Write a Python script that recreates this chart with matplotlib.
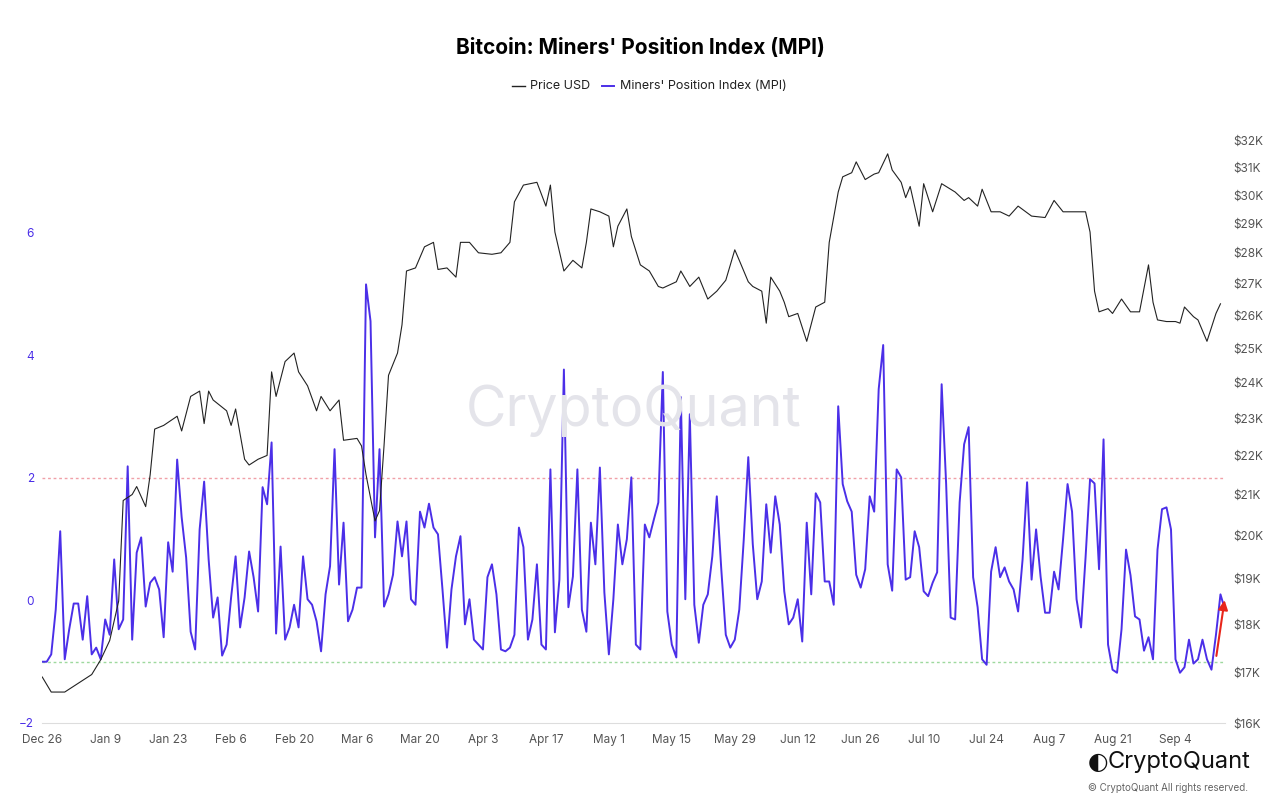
import numpy as np
import pandas as pd
import matplotlib
matplotlib.use('Agg')
import matplotlib.pyplot as plt
from matplotlib.ticker import FixedLocator

# --- data ---
start = pd.Timestamp('2022-12-26')

mpi = [-1.0, -1.0, -0.88, -0.15, 1.13, -0.96, -0.47, -0.05, -0.05, -0.64, 0.07, -0.88, -0.77, -0.96, -0.31,
       -0.56, 0.67, -0.47, -0.31, 2.19, -0.64, 0.78, 1.03, -0.1, 0.29, 0.38, 0.18, -0.6, 0.95, 0.47, 2.3, 1.36,
       0.7, -0.51, -0.8, 1.16, 1.94, 0.67, -0.28, 0.05, -0.9, -0.72, 0.05, 0.72, -0.44, 0.05, 0.8, 0.38, -0.18,
       1.85, 1.57, 2.58, -0.54, 0.88, -0.64, -0.44, -0.07, -0.44, 0.72, 0.02, -0.07, -0.34, -0.83, 0.1, 0.56,
       2.47, 0.26, 1.27, -0.34, -0.15, 0.21, 0.21, 5.16, 4.56, 1.03, 2.47, -0.1, 0.1, 0.42, 1.29, 0.72, 1.29,
       0.02, -0.07, 1.45, 1.19, 1.58, 1.19, 1.08, 0.18, -0.77, 0.18, 0.72, 1.05, -0.39, 0.02, -0.64, -0.72,
       -0.8, 0.38, 0.59, 0.1, -0.8, -0.83, -0.77, -0.56, 1.19, 0.87, -0.64, -0.31, 0.59, -0.72, -0.8, 2.14,
       -0.52, 0.34, 3.77, -0.11, 0.39, 2.14, -0.15, -0.51, 1.27, 0.59, 2.17, 0.13, -0.88, 0.02, 1.24, 0.59,
       1.0, 2.01, -0.72, -0.8, 1.24, 1.03, 1.32, 1.6, 3.73, -0.18, -0.72, -0.93, 3.32, 0.02, 3.04, -0.07,
       -0.69, -0.07, 0.1, 0.72, 1.7, 0.51, -0.56, -0.77, -0.64, -0.15, 1.0, 2.34, 0.92, 0.02, 0.31, 1.57,
       0.78, 1.7, 1.24, 0.15, -0.39, -0.28, 0.02, -0.67, 1.27, 0.1, 1.75, 1.6, 0.31, 0.31, -0.07, 3.17, 1.9,
       1.62, 1.45, 0.42, 0.21, 0.51, 1.7, 1.45, 3.45, 4.17, 0.59, 0.16, 2.14, 2.01, 0.34, 0.38, 1.13, 0.87,
       0.15, 0.07, 0.29, 0.46, 3.53, 1.9, -0.28, -0.31, 1.6, 2.55, 2.83, 0.38, -0.11, -0.96, -1.05, 0.47,
       0.87, 0.38, 0.54, 0.31, 0.18, -0.18, 0.67, 1.93, 0.34, 1.16, 0.39, -0.2, -0.2, 0.47, 0.18, 1.0, 1.9,
       1.45, 0.02, -0.44, 0.7, 1.98, 1.91, 0.51, 2.63, -0.72, -1.13, -1.18, -0.47, 0.83, 0.41, -0.26, -0.31,
       -0.82, -0.6, -0.96, 0.83, 1.49, 1.52, 1.16, -0.96, -1.18, -1.09, -0.64, -1.03, -0.96, -0.64, -0.96,
       -1.13, -0.56, 0.1, -0.15]

price_days = [0, 2, 5, 11, 13, 15, 17, 18, 20, 21, 23, 24, 25, 27, 30, 31, 33, 35, 36, 37, 38, 41, 42, 43, 45,
              46, 48, 50, 51, 52, 54, 56, 57, 59, 61, 62, 64, 66, 67, 70, 71, 72, 74, 75, 76, 77, 79, 80, 81, 83,
              85, 87, 88, 90, 92, 93, 95, 97, 100, 102, 104, 105, 107, 110, 112, 113, 114, 116, 118, 120, 121,
              122, 124, 126, 127, 128, 130, 131, 133, 135, 137, 138, 141, 142, 144, 145, 146, 148, 150, 152,
              154, 155, 157, 158, 160, 161, 162, 164, 165, 166, 168, 170, 172, 174, 175, 177, 178, 180, 181,
              183, 185, 186, 188, 189, 191, 192, 193, 195, 196, 198, 200, 201, 203, 205, 206, 208, 209, 211,
              213, 215, 217, 220, 223, 225, 227, 231, 232, 233, 234, 235, 237, 238, 240, 242, 244, 246, 247,
              248, 250, 252, 253, 254, 256, 257, 259, 261, 262]
price_k = [16.9, 16.6, 16.6, 16.95, 17.25, 17.65, 18.5, 20.85, 21.0, 21.2, 20.7, 21.5, 22.7, 22.8, 23.05, 22.65,
           23.6, 23.75, 22.85, 23.75, 23.5, 23.2, 22.8, 23.25, 21.9, 21.75, 21.9, 22.0, 24.3, 23.6, 24.6, 24.85,
           24.3, 23.9, 23.2, 23.6, 23.2, 23.5, 22.4, 22.45, 22.25, 21.5, 20.35, 20.6, 22.25, 24.2, 24.85, 25.7,
           27.4, 27.5, 28.2, 28.35, 27.45, 27.5, 27.2, 28.35, 28.35, 28.0, 27.95, 28.0, 28.35, 29.75, 30.35,
           30.45, 29.6, 30.35, 28.7, 27.4, 27.75, 27.5, 28.35, 29.5, 29.4, 29.25, 28.2, 28.9, 29.5, 28.55, 27.6,
           27.4, 26.9, 26.85, 27.05, 27.4, 26.9, 27.05, 27.2, 26.5, 26.75, 27.1, 28.1, 27.75, 27.05, 26.9, 26.75,
           25.75, 27.2, 26.75, 26.4, 25.95, 26.05, 25.2, 26.25, 26.4, 28.35, 30.1, 30.65, 30.8, 31.2, 30.55,
           30.75, 30.8, 31.5, 30.9, 30.45, 29.9, 30.3, 28.9, 30.4, 29.4, 30.4, 30.3, 30.1, 29.8, 29.9, 29.6,
           30.2, 29.4, 29.4, 29.25, 29.6, 29.25, 29.2, 29.8, 29.4, 29.4, 29.4, 28.7, 26.75, 26.1, 26.2, 26.05,
           26.5, 26.1, 26.1, 27.6, 26.4, 25.85, 25.8, 25.8, 25.75, 26.25, 25.95, 25.85, 25.2, 26.05, 26.35]

tick_labels = ['Dec 26', 'Jan 9', 'Jan 23', 'Feb 6', 'Feb 20', 'Mar 6', 'Mar 20', 'Apr 3', 'Apr 17', 'May 1',
               'May 15', 'May 29', 'Jun 12', 'Jun 26', 'Jul 10', 'Jul 24', 'Aug 7', 'Aug 21', 'Sep 4']

plt.rcParams['font.family'] = 'Inter'
fig = plt.figure(figsize=(12.8, 8.06), dpi=100)
ax = fig.add_axes([0.033, 0.103, 0.924, 0.760])
ax2 = ax.twinx()

mpi_days = np.arange(len(mpi))
ax.plot(mpi_days, mpi, color='#4b2fe8', lw=1.4, zorder=3)
ax.axhline(2, color='#f0a0a8', lw=1, ls=(0, (2, 2)), zorder=1)
ax.axhline(-1, color='#9ed99e', lw=1, ls=(0, (2, 2)), zorder=1)
ax.set_ylim(-2, 8)
ax.set_yticks([-2, 0, 2, 4, 6])
ax.tick_params(axis='y', colors='#4b2fe8', labelsize=8.5, length=0, pad=6)

ax2.plot(price_days, np.array(price_k) * 1000, color='#222222', lw=0.8, zorder=2)
ax2.set_yscale('log')
ax2.set_ylim(16000, 33170)
pticks = np.arange(16000, 33000, 1000)
ax2.yaxis.set_major_locator(FixedLocator(pticks))
ax2.yaxis.set_minor_locator(FixedLocator([]))
ax2.set_yticklabels([f'${int(v/1000)}K' for v in pticks])
ax2.tick_params(axis='y', colors='#555555', labelsize=8.5, length=0, pad=6)

ax.set_xlim(0, 263)
ax.set_xticks(np.arange(0, 253, 14))
ax.set_xticklabels(tick_labels)
ax.tick_params(axis='x', colors='#555555', labelsize=8.5, length=0, pad=8)

for a in (ax, ax2):
    for s in a.spines.values():
        s.set_visible(False)
ax.spines['bottom'].set_visible(True)
ax.spines['bottom'].set_color('#dddddd')

# red arrow annotation
ax.annotate('', xy=(263, 0.05), xytext=(261, -0.95),
            arrowprops=dict(arrowstyle='-|>', color='#e8251a', lw=1.5, mutation_scale=14))

fig.text(0.5, 0.94, "Bitcoin: Miners' Position Index (MPI)", ha='center', va='center',
         fontsize=15, fontweight='bold')
lx = 0.40
fig.lines.append(plt.Line2D([lx, lx + 0.01], [0.893, 0.893], color='#222222', lw=1, transform=fig.transFigure))
fig.text(lx + 0.014, 0.893, 'Price USD', va='center', fontsize=9, color='#222222')
lx2 = 0.47
fig.lines.append(plt.Line2D([lx2, lx2 + 0.01], [0.893, 0.893], color='#4b2fe8', lw=1.4, transform=fig.transFigure))
fig.text(lx2 + 0.014, 0.893, "Miners' Position Index (MPI)", va='center', fontsize=9, color='#222222')

fig.text(0.495, 0.49, 'CryptoQuant', ha='center', va='center', fontsize=40, color='#e4e4ea', zorder=0)
fig.text(0.977, 0.054, 'CryptoQuant', ha='right', va='center', fontsize=17, color='#111111')
fig.text(0.858, 0.054, '◐', ha='center', va='center', fontsize=17, color='#111111', family='DejaVu Sans')
fig.text(0.975, 0.022, '© CryptoQuant All rights reserved.', ha='right', va='center', fontsize=7, color='#666666')

fig.savefig('out.png', dpi=100)
